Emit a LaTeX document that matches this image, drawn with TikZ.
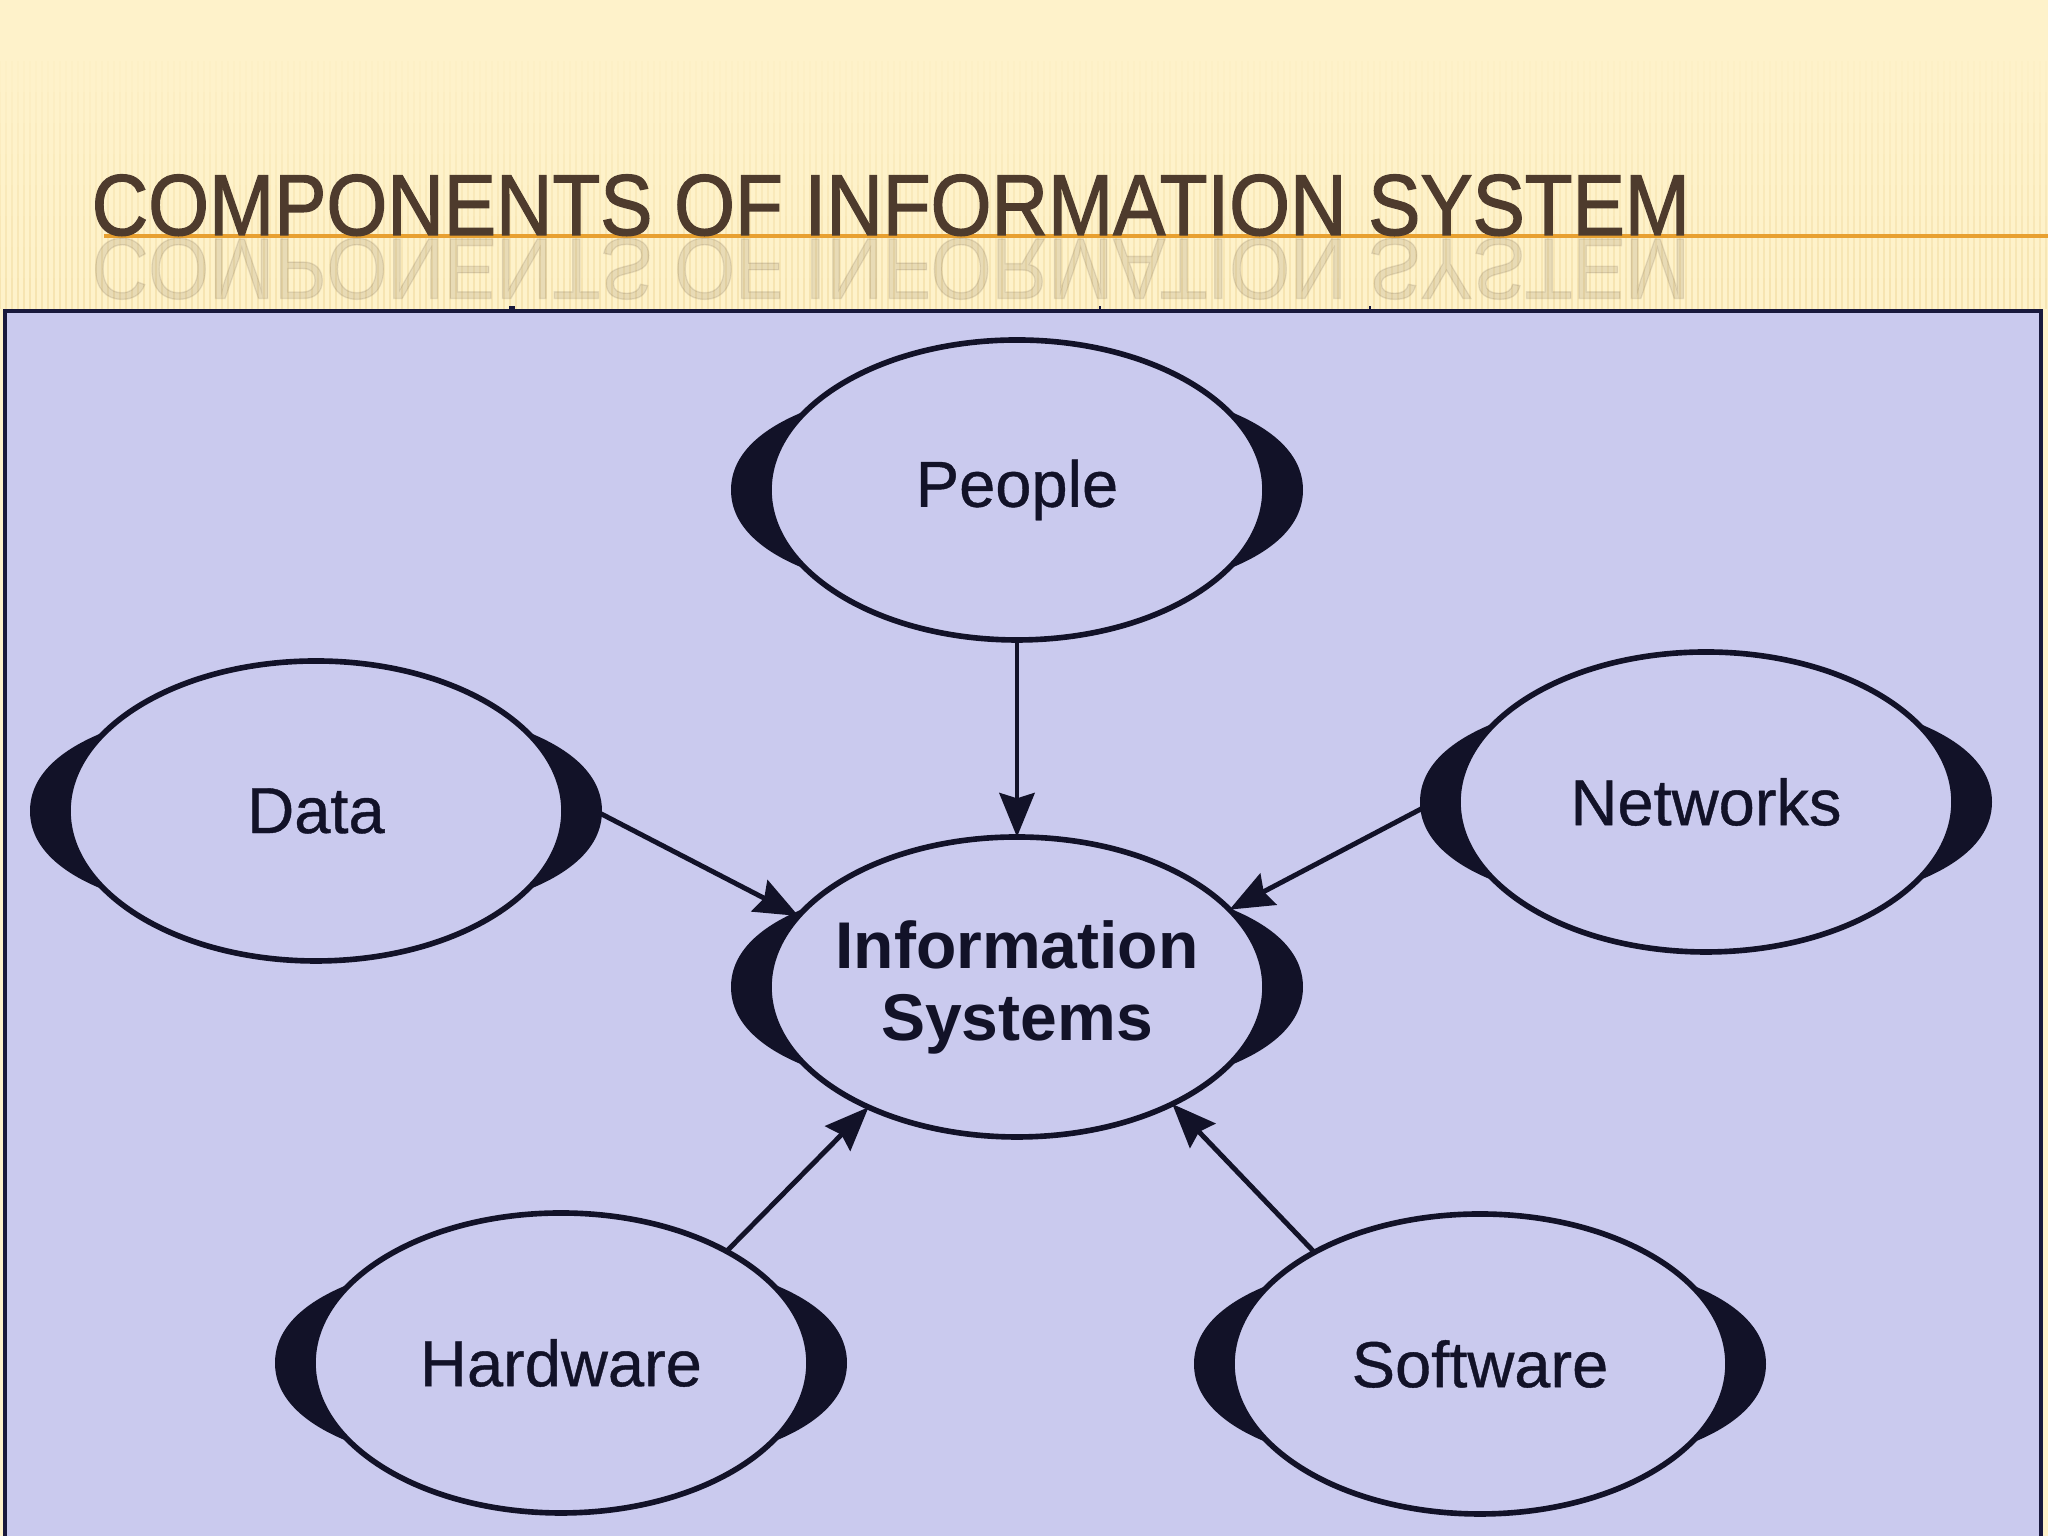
\documentclass[tikz,border=0pt]{standalone}
\usepackage{fontspec}
\setmainfont{Liberation Sans}
\newfontfamily\titlefamily[FakeBold=1.6]{Liberation Sans}
\newfontfamily\labelfamily[FakeBold=0.6]{Liberation Sans}
\usetikzlibrary{arrows.meta,shapes.geometric}
\definecolor{cream}{RGB}{254,242,202}
\definecolor{stripe}{RGB}{236,208,140}
\definecolor{orangeline}{RGB}{232,160,48}
\definecolor{titlebrown}{RGB}{78,59,45}
\definecolor{lav}{RGB}{202,202,238}
\definecolor{navy}{RGB}{25,25,60}
\definecolor{ink}{RGB}{18,18,40}
\newcommand{\drawcrescents}[1]{%
  \fill[ink,shift={(#1.center)}]
    (-2.103cm,0.795cm) .. controls (-2.55cm,0.62cm) and (-2.86cm,0.36cm) .. (-2.86cm,0cm)
      .. controls (-2.86cm,-0.36cm) and (-2.55cm,-0.62cm) .. (-2.103cm,-0.795cm)
      arc[start angle=212,end angle=148,x radius=2.48cm,y radius=1.5cm] -- cycle
    (2.103cm,0.795cm) .. controls (2.55cm,0.62cm) and (2.86cm,0.36cm) .. (2.86cm,0cm)
      .. controls (2.86cm,-0.36cm) and (2.55cm,-0.62cm) .. (2.103cm,-0.795cm)
      arc[start angle=-32,end angle=32,x radius=2.48cm,y radius=1.5cm] -- cycle;}
\begin{document}
\begin{tikzpicture}[
  comp/.style={ellipse, draw=ink, line width=1.6pt, minimum width=4.96cm, minimum height=3cm, inner sep=0pt, outer sep=0pt},
  lbl/.style={text=ink, font=\labelfamily\fontsize{18.5}{22}\selectfont, inner sep=0pt},
  lblbold/.style={text=ink, font=\fontsize{18.8}{20.5}\selectfont\bfseries, align=center, inner sep=0pt},
  link/.style={draw=ink, line width=1.4pt, -{Stealth[length=12.5pt,width=10pt,inset=1.5pt]}},
  titlefont/.style={text=titlebrown, font=\titlefamily\fontsize{24.6}{28}\selectfont, inner sep=0pt, anchor=base west}
]
\useasboundingbox (0,0) rectangle (20.48,15.36);
% slide background
\fill[cream] (0,0) rectangle (20.48,15.36);
\foreach \k in {1,...,8}{
  \pgfmathsetmacro\ytop{14.75-(\k-1)*0.31}
  \pgfmathsetmacro\ybot{\ytop-0.31}
  \pgfmathsetmacro\op{\k*0.05}
  \draw[stripe, line width=0.6pt, opacity=\op] \foreach \x in {0,0.06,...,20.48}{(\x,\ybot) -- (\x,\ytop)};
}
% title
\draw[orangeline, line width=0.9pt] (1.04,13.0) -- (20.48,13.0);
\node[titlefont] (title) at (0.91,13.01) {\scalebox{0.905}[1]{COMPONENTS OF INFORMATION SYSTEM}};
\node[titlefont, opacity=0.12, yscale=-1, transform shape] (titlerefl) at (0.91,12.97) {\scalebox{0.905}[1]{COMPONENTS OF INFORMATION SYSTEM}};
% picture box
\draw[navy, line width=1pt, fill=lav] (0.05,-0.2) rectangle (20.41,12.25);
\draw[navy, line width=1.6pt] (5.12,12.25) -- (5.12,12.30);
\draw[navy, line width=0.8pt] (11.00,12.25) -- (11.00,12.30);
\draw[navy, line width=0.8pt] (13.70,12.25) -- (13.70,12.30);
% components
\node[comp, label={[lbl]center:People}] (people) at (10.17,10.46) {};
\node[comp, label={[lbl]center:Data}] (data) at (3.16,7.25) {};
\node[comp, label={[lblbold]center:Information\\Systems}] (is) at (10.17,5.49) {};
\node[comp, label={[lbl]center:Networks}] (net) at (17.06,7.34) {};
\node[comp, label={[lbl]center:Hardware}] (hw) at (5.61,1.73) {};
\node[comp, label={[lbl]center:Software}] (sw) at (14.80,1.72) {};
% connectors
\draw[link] (people.south) -- (is.north);
\draw[link] (data.4) -- (is.162);
\draw[link] (net.177) -- (is.20);
\draw[link] (hw.34) -- (is.219);
\draw[link] (sw.146) -- (is.323);
% crescents
\drawcrescents{people}
\drawcrescents{data}
\drawcrescents{is}
\drawcrescents{net}
\drawcrescents{hw}
\drawcrescents{sw}
\end{tikzpicture}
\end{document}
